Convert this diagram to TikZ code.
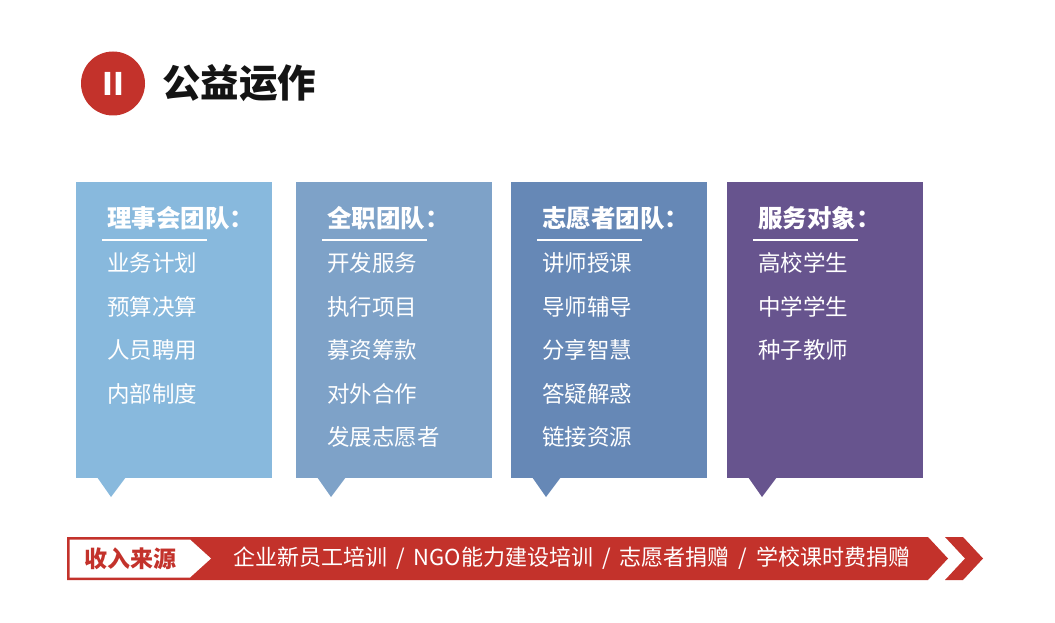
\documentclass[tikz,border=0pt]{standalone}
\usepackage{fontspec}
\setmainfont{Noto Sans CJK SC}
\definecolor{bA}{RGB}{136,185,221}
\definecolor{bB}{RGB}{126,162,200}
\definecolor{bC}{RGB}{102,136,182}
\definecolor{bD}{RGB}{103,84,142}
\definecolor{rd}{RGB}{195,50,43}
\definecolor{ttl}{RGB}{20,20,20}
\tikzset{
  hdr/.style={anchor=west,inner sep=0pt,text=white,font=\fontsize{24.5}{26}\selectfont\bfseries},
  itm/.style={anchor=west,inner sep=0pt,text=white,font=\fontsize{22.5}{24}\selectfont},
}
\newcommand\mybox[5]{%
  \fill[#3] (#2,182) rectangle ++(196,296);
  \fill[#3] (#2+21,477) -- (#2+50,477) -- (#2+35,497) -- cycle;
  \node[hdr] (#1h) at (#2+31,218) {#4};
  \draw[white,line width=2pt] (#2+26,240) -- ++(105,0);
  \foreach \t [count=\i] in {#5} {\node[itm] (#1i\i) at (#2+31,219.5+43.5*\i) {\t};}
}
\newcommand\sep{\hspace{9pt}/\hspace{9pt}}
\begin{document}
\begin{tikzpicture}[x=1pt,y=-1pt]
\useasboundingbox (0,0) rectangle (1055,623);
% title
\fill[rd] (113,83.5) circle (32);
\node[inner sep=0pt,text=white,font=\fontsize{31}{32}\selectfont\bfseries] (num) at (113,83.5) {II};
\node[anchor=west,inner sep=0pt,text=ttl,font=\fontsize{38.5}{40}\selectfont\bfseries] (title) at (162,83) {公益运作};
% boxes
\mybox{a}{76}{bA}{理事会团队：}{业务计划,预算决算,人员聘用,内部制度}
\mybox{b}{296}{bB}{全职团队：}{开发服务,执行项目,募资筹款,对外合作,发展志愿者}
\mybox{c}{511}{bC}{志愿者团队：}{讲师授课,导师辅导,分享智慧,答疑解惑,链接资源}
\mybox{d}{727}{bD}{服务对象：}{高校学生,中学学生,种子教师}
% bottom bar
\fill[rd] (67,537) -- (928,537) -- (948,558.5) -- (928,580) -- (67,580) -- cycle;
\fill[white] (69.5,539.5) -- (190,539.5) -- (211,558.5) -- (190,577.5) -- (69.5,577.5) -- cycle;
\fill[rd] (945,537) -- (963,537) -- (983,558.5) -- (963,580) -- (945,580) -- (965,558.5) -- cycle;
\node[inner sep=0pt,text=rd,font=\fontsize{23}{24}\selectfont\bfseries] (inc) at (130,558.5) {收入来源};
\node[anchor=west,inner sep=0pt,text=white,font=\fontsize{22}{24}\selectfont] (src) at (233,558.5) {企业新员工培训\sep NGO能力建设培训\sep 志愿者捐赠\sep 学校课时费捐赠};
\end{tikzpicture}
\end{document}
